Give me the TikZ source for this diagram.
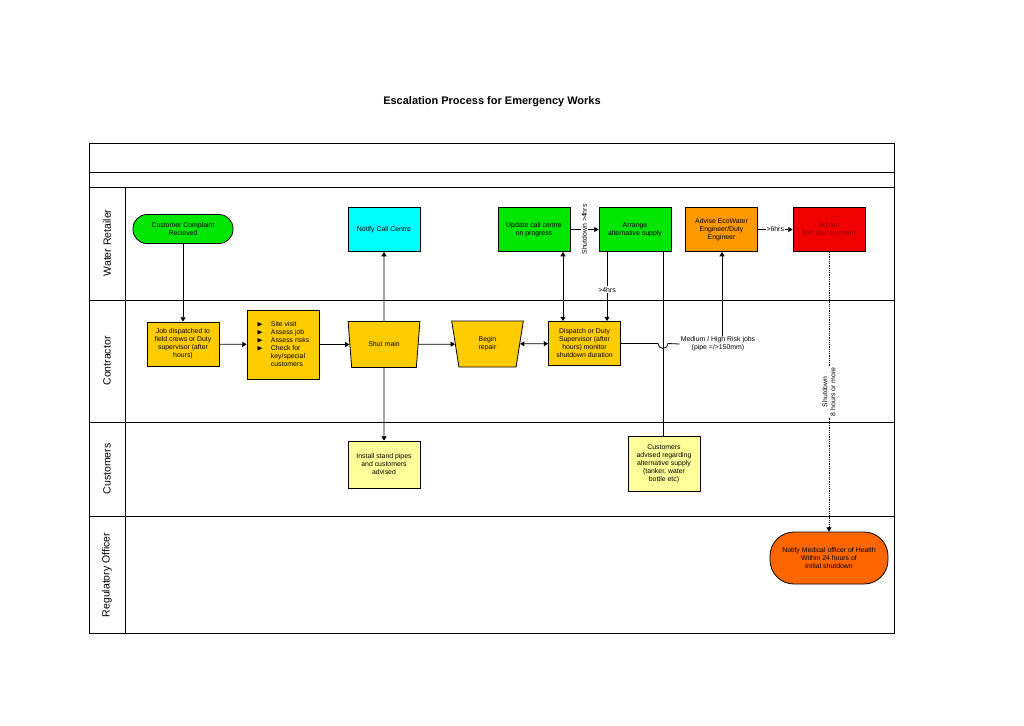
\documentclass[tikz,border=0pt]{standalone}
\usepackage{amssymb}
\usepackage{fontspec}
\setmainfont{Liberation Sans}
\usepackage{tikz}
\usetikzlibrary{arrows.meta, shapes.geometric}

\definecolor{ewgreen}{RGB}{0,230,0}
\definecolor{ewcyan}{RGB}{0,255,255}
\definecolor{ewgold}{RGB}{255,204,0}
\definecolor{ewpale}{RGB}{255,255,153}
\definecolor{eworange}{RGB}{255,153,0}
\definecolor{ewred}{RGB}{240,0,0}
\definecolor{ewtomato}{RGB}{255,102,0}

\tikzset{
  box/.style={draw, thick, minimum width=72pt, minimum height=44pt, align=center, inner sep=1pt,
    font=\fontsize{6.9}{8}\selectfont},
  pill/.style={box, rounded corners=14pt},
  trap/.style={box, trapezium, shape border rotate=180, trapezium left angle=72, trapezium right angle=72,
    minimum width=72pt, minimum height=46pt, text width=40pt, trapezium stretches},
  flow/.style={thick, -{Triangle[scale=0.9]}},
  lbl/.style={font=\fontsize{6.9}{8}\selectfont, align=center, inner sep=1pt},
  lane/.style={font=\fontsize{10.5}{12}\selectfont, rotate=90}
}

\begin{document}
\begin{tikzpicture}[x=1pt, y=-1pt]
  \useasboundingbox (0,0) rectangle (1024,725);

  % frame and lanes
  \draw[thick] (89,143) rectangle (894,633);
  \foreach \yy in {172,187,300,422,516}
    \draw[thick] (89,\yy) -- (894,\yy);
  \draw[thick] (125,187) -- (125,633);
  \node[font=\bfseries\fontsize{11}{13}\selectfont] (title) at (492,102) {Escalation Process for Emergency Works};
  \node[lane] (l1) at (107,243) {Water Retailer};
  \node[lane] (l2) at (107,361) {Contractor};
  \node[lane] (l3) at (107,469) {Customers};
  \node[lane] (l4) at (107,575) {Regulatory Officer};

  % water retailer
  \node[pill, fill=ewgreen, minimum width=100pt, minimum height=29pt] (complaint) at (183,229) {Customer Complaint\\Recieved};
  \node[box, fill=ewcyan] (notify) at (384,229.5) {Notify Call Centre};
  \node[box, fill=ewgreen] (update) at (534,229.5) {Update call centre\\on progress};
  \node[box, fill=ewgreen] (arrange) at (635,229.5) {Arrange\\alternative supply};
  \node[box, fill=eworange] (eco) at (721.5,229.5) {Advise EcoWater\\Engineer/Duty\\Engineer};
  \node[box, fill=ewred, text=red!60!black] (mgmt) at (829,229.5) {Advise\\EW Management};

  % contractor
  \node[box, fill=ewgold] (job) at (183,344) {Job dispatched to\\field crews or Duty\\supervisor (after\\hours)};
  \node[box, fill=ewgold, minimum height=69pt, align=left] (visit) at (283,344.5)
    {\begin{tabular}{@{}l@{\hspace{8pt}}l@{}}
      $\blacktriangleright$ & Site visit\\
      $\blacktriangleright$ & Assess job\\
      $\blacktriangleright$ & Assess risks\\
      $\blacktriangleright$ & Check for\\
      & key/special\\
      & customers
    \end{tabular}};
  \node[trap, fill=ewgold] (shut) at (384,344.5) {Shut main};
  \node[trap, fill=ewgold] (repair) at (487.5,344) {Begin\\repair};
  \node[box, fill=ewgold] (dispatch) at (584.5,343.5) {Dispatch or Duty\\Supervisor (after\\hours) monitor\\shutdown duration};
  \node[lbl] (risk) at (718,344) {Medium / High Risk jobs\\(pipe =/>150mm)};

  % customers
  \node[box, fill=ewpale, minimum height=47pt] (pipes) at (384,464.5) {Install stand pipes\\and customers\\advised};
  \node[box, fill=ewpale, minimum height=55pt] (advised) at (664,463.5) {Customers\\advised regarding\\alternative supply\\(tanker, water\\bottle etc)};

  % regulatory officer
  \node[pill, fill=ewtomato, minimum width=118pt, minimum height=52pt, rounded corners=24pt] (medical) at (829,558)
    {Notify Medical officer of Health\\Within 24 hours of\\Initial shutdown};

  % connectors
  \draw[flow] (complaint) -- (job);
  \draw[flow] (job) -- (visit);
  \draw[flow] (visit) -- (shut);
  \draw[flow] (shut) -- (repair);
  \draw[flow, {Triangle[scale=0.9]}-{Triangle[scale=0.9]}] (repair) -- (dispatch);
  \draw[flow] (shut) -- (notify);
  \draw[flow] (shut) -- (pipes);
  \draw[flow, {Triangle[scale=0.9]}-{Triangle[scale=0.9]}] (update.south -| 563,0) -- (dispatch.north -| 563,0);
  \draw[flow] (update) -- node[lbl, rotate=90, fill=white] {Shutdown >4hrs} (arrange);
  \draw[flow] (arrange.south -| 607,0) -- node[lbl, fill=white, pos=0.55] {>4hrs} (dispatch.north -| 607,0);
  \draw[thick] (arrange.south -| 663,0) -- (advised.north -| 663,0);
  \draw[thick] (dispatch.east) -- (658,343.5) arc[start angle=180, end angle=0, radius=5] -- (risk.west);
  \draw[flow] (risk.north -| 722,0) -- (eco.south -| 722,0);
  \draw[flow] (eco) -- node[lbl, fill=white] {>6hrs} (mgmt);
  \draw[thick, densely dotted, -{Triangle[scale=0.9]}] (mgmt) --
    node[lbl, rotate=90, fill=white, pos=0.5] {Shutdown\\8 hours or more} (medical);
\end{tikzpicture}
\end{document}
